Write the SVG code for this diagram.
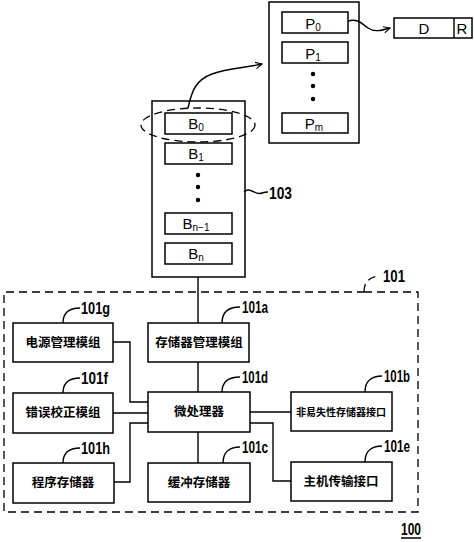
<svg xmlns="http://www.w3.org/2000/svg" width="474" height="542" viewBox="0 0 474 542">
<style>
.box{fill:#fff;stroke:#000;stroke-width:1.5}
.ln{fill:none;stroke:#000;stroke-width:1.4}
.dash{fill:none;stroke:#000;stroke-width:1.3;stroke-dasharray:8,5}
.cn{font-family:"Noto Sans CJK SC",sans-serif;font-size:12.5px;font-weight:bold;text-anchor:middle;fill:#000}
.lbl{font-family:"Liberation Sans",Arial,sans-serif;font-size:16px;font-weight:bold;fill:#000}
.var{font-family:"Liberation Sans",Arial,sans-serif;font-size:15px;fill:#000;text-anchor:middle}
.sub{font-size:10px}
</style>
<defs>
<marker id="arr" viewBox="0 0 10 10" refX="9" refY="5" markerWidth="8" markerHeight="8" orient="auto" markerUnits="userSpaceOnUse">
<path d="M1,1 L9,5 L1,9" fill="none" stroke="#000" stroke-width="1.4"/>
</marker>
</defs>
<rect width="474" height="542" fill="#fff"/>

<g id="pagebox">
<rect class="box" x="269" y="2" width="90" height="141"/>
<rect class="box" x="282" y="12" width="66" height="21"/>
<text class="var" x="313" y="29">P<tspan class="sub" dy="2">0</tspan></text>
<rect class="box" x="282" y="42" width="66" height="21"/>
<text class="var" x="313" y="59">P<tspan class="sub" dy="2">1</tspan></text>
<circle cx="313" cy="74" r="2.2"/>
<circle cx="313" cy="86" r="2.2"/>
<circle cx="313" cy="99" r="2.2"/>
<rect class="box" x="282" y="113" width="66" height="20"/>
<text class="var" x="314" y="129">P<tspan class="sub" dy="2">m</tspan></text>
</g>

<g id="dr">
<rect class="box" x="394" y="18" width="78" height="20"/>
<line class="ln" x1="454" y1="18" x2="454" y2="38"/>
<text class="var" x="424" y="34">D</text>
<text class="var" x="462" y="34">R</text>
</g>

<g id="blockbox">
<rect class="box" x="152" y="101" width="93" height="176"/>
<rect class="box" x="165" y="113" width="67" height="21"/>
<text class="var" x="196" y="129">B<tspan class="sub" dy="2">0</tspan></text>
<rect class="box" x="165" y="143" width="67" height="21"/>
<text class="var" x="196" y="159">B<tspan class="sub" dy="2">1</tspan></text>
<circle cx="198" cy="175" r="2.2"/>
<circle cx="198" cy="187" r="2.2"/>
<circle cx="198" cy="200" r="2.2"/>
<rect class="box" x="165" y="213" width="67" height="21"/>
<text class="var" x="196" y="229">B<tspan class="sub" dy="2">n−1</tspan></text>
<rect class="box" x="165" y="243" width="67" height="21"/>
<text class="var" x="196" y="259">B<tspan class="sub" dy="2">n</tspan></text>
<ellipse cx="198" cy="125" rx="57" ry="17" class="dash" stroke-dasharray="6,4"/>
<path class="ln" d="M244,192 C250,186 255,196 262,193 C265,192 267,192 268,192"/>
<text class="lbl" x="269" y="199" textLength="23" lengthAdjust="spacingAndGlyphs">103</text>
</g>

<g id="g101">
<path class="dash" d="M364,292 L418,292 L418,512 L4,512 L4,292 L364,292"/>
<path class="dash" stroke-dasharray="4,3" d="M364,292 C364,283 368,277 380,276"/>
<text class="lbl" x="383" y="282" textLength="22" lengthAdjust="spacingAndGlyphs">101</text>
</g>

<g id="n101g">
<rect class="box" x="13" y="323" width="100" height="39"/>
<text class="cn" x="63" y="347">电源管理模组</text>
<path class="ln" d="M63,323 C63,312 70,308 80,308"/>
<text class="lbl" x="81" y="314" textLength="29" lengthAdjust="spacingAndGlyphs">101g</text>
</g>
<g id="n101f">
<rect class="box" x="13" y="393" width="100" height="40"/>
<text class="cn" x="63" y="417">错误校正模组</text>
<path class="ln" d="M63,393 C63,382 70,378 80,378"/>
<text class="lbl" x="81" y="384" textLength="27" lengthAdjust="spacingAndGlyphs">101f</text>
</g>
<g id="n101h">
<rect class="box" x="13" y="463" width="101" height="40"/>
<text class="cn" x="63" y="487">程序存储器</text>
<path class="ln" d="M63,463 C63,452 70,448 80,448"/>
<text class="lbl" x="81" y="454" textLength="29" lengthAdjust="spacingAndGlyphs">101h</text>
</g>
<g id="n101a">
<rect class="box" x="148" y="323" width="101" height="39"/>
<text class="cn" x="199" y="347">存储器管理模组</text>
<path class="ln" d="M222,323 C222,312 229,307 240,307"/>
<text class="lbl" x="242" y="313" textLength="26" lengthAdjust="spacingAndGlyphs">101a</text>
</g>
<g id="n101d">
<rect class="box" x="148" y="392" width="102" height="40"/>
<text class="cn" x="199" y="416">微处理器</text>
<path class="ln" d="M222,392 C222,381 229,377 240,377"/>
<text class="lbl" x="242" y="383" textLength="26" lengthAdjust="spacingAndGlyphs">101d</text>
</g>
<g id="n101c">
<rect class="box" x="148" y="463" width="102" height="39"/>
<text class="cn" x="199" y="487">缓冲存储器</text>
<path class="ln" d="M223,463 C223,452 230,447 240,447"/>
<text class="lbl" x="242" y="453" textLength="26" lengthAdjust="spacingAndGlyphs">101c</text>
</g>
<g id="n101b">
<rect class="box" x="291" y="392" width="101" height="39"/>
<text class="cn" x="341" y="416" style="font-size:10px">非易失性存储器接口</text>
<path class="ln" d="M365,392 C365,381 372,376 382,376"/>
<text class="lbl" x="384" y="382" textLength="26" lengthAdjust="spacingAndGlyphs">101b</text>
</g>
<g id="n101e">
<rect class="box" x="291" y="462" width="101" height="39"/>
<text class="cn" x="341" y="486">主机传输接口</text>
<path class="ln" d="M365,462 C365,451 372,446 382,446"/>
<text class="lbl" x="384" y="452" textLength="26" lengthAdjust="spacingAndGlyphs">101e</text>
</g>

<g id="connectors">
<path class="ln" d="M348,21 C358,18 362,24 368,28 C374,32 380,31 390,28" marker-end="url(#arr)"/>
<path class="ln" d="M188,108 C192,90 196,80 212,74 C228,68 245,68 262,64" marker-end="url(#arr)"/>
<line class="ln" x1="198" y1="277" x2="198" y2="323"/>
<line class="ln" x1="198" y1="362" x2="198" y2="392"/>
<line class="ln" x1="198" y1="432" x2="198" y2="463"/>
<path class="ln" d="M113,342 H130 V402 H148"/>
<path class="ln" d="M113,413 H148"/>
<path class="ln" d="M114,482 H130 V423 H148"/>
<path class="ln" d="M250,412 H291"/>
<path class="ln" d="M250,423 H273 V481 H291"/>
</g>

<g id="fig">
<text class="lbl" x="401" y="535" textLength="20" lengthAdjust="spacingAndGlyphs">100</text>
<line x1="401" y1="538" x2="421" y2="538" stroke="#000" stroke-width="1.5"/>
</g>
</svg>
